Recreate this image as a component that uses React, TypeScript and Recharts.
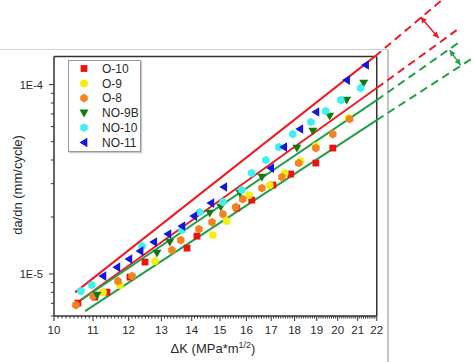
import {
  ComposedChart,
  Scatter,
  Line,
  XAxis,
  YAxis,
  ReferenceLine,
  ReferenceDot,
  Legend,
} from "recharts";

// measured crack growth rate da/dn (mm/cycle) vs ΔK (MPa*m^1/2)
const o10K = [10.6, 11.05, 11.38, 12.04, 12.49, 13.84, 14.18, 15.63, 16.21, 17.07, 17.83, 18.96, 19.76];
const o10Rate = [7.02e-6, 7.55e-6, 8.02e-6, 9.63e-6, 1.156e-5, 1.37e-5, 1.585e-5, 2.23e-5, 2.457e-5, 2.949e-5, 3.371e-5, 3.854e-5, 4.624e-5];

const o9K = [11.27, 11.75, 12.8, 14.74, 15.25, 16.1, 16.94, 17.57, 18.27, 18.96, 20.54];
const o9Rate = [8.02e-6, 8.74e-6, 1.17e-5, 1.605e-5, 1.903e-5, 2.611e-5, 2.949e-5, 3.412e-5, 3.95e-5, 4.738e-5, 6.662e-5];

const o8K = [10.55, 11.0, 11.69, 12.1, 13.34, 13.63, 14.25, 14.71, 15.11, 15.59, 15.86, 16.62, 17.45, 18.18, 18.96, 19.76, 20.59];
const o8Rate = [6.85e-6, 7.64e-6, 9.17e-6, 9.75e-6, 1.337e-5, 1.51e-5, 1.726e-5, 1.88e-5, 2.072e-5, 2.257e-5, 2.487e-5, 2.843e-5, 3.25e-5, 3.854e-5, 4.624e-5, 5.483e-5, 6.581e-5];

const no9bK = [11.11, 12.86, 13.27, 14.63, 15.03, 15.75, 16.62, 18.1, 18.82, 19.61, 20.44, 21.31];
const no9bRate = [7.74e-6, 1.289e-5, 1.474e-5, 2.098e-5, 2.257e-5, 2.675e-5, 3.25e-5, 4.624e-5, 5.686e-5, 6.826e-5, 8.293e-5, 1.02e-4];

const no10K = [10.68, 10.97, 12.4, 13.67, 14.28, 15.11, 15.82, 16.21, 16.78, 17.32, 17.92, 18.73, 19.42, 20.15, 21.15];
const no10Rate = [8.12e-6, 8.74e-6, 1.404e-5, 1.706e-5, 2.123e-5, 2.398e-5, 2.775e-5, 3.412e-5, 3.999e-5, 4.681e-5, 5.483e-5, 6.345e-5, 7.256e-5, 8.293e-5, 9.595e-5];

const no11K = [11.27, 11.66, 12.01, 12.34, 12.76, 13.21, 13.67, 14.07, 14.67, 15.14, 16.98, 17.53, 18.23, 18.96, 20.44, 21.41];
const no11Rate = [9.75e-6, 1.087e-5, 1.199e-5, 1.321e-5, 1.474e-5, 1.625e-5, 1.791e-5, 2.022e-5, 2.369e-5, 2.878e-5, 3.625e-5, 4.681e-5, 5.828e-5, 7.168e-5, 1.057e-4, 1.269e-4];

// fitted bounds (solid inside the frame, dashed extrapolation)
const upperRedK = [10.53, 21.9];
const upperRedRate = [8.0e-6, 1.41e-4];
const upperRedExtK = [21.9, 25.8];
const upperRedExtRate = [1.41e-4, 2.8e-4];

const lowerRedK = [10.6, 22];
const lowerRedRate = [7.11e-6, 9.6e-5];
const lowerRedExtK = [22, 26.74];
const lowerRedExtRate = [9.6e-5, 1.94e-4];

const upperGreenK = [10.53, 22];
const upperGreenRate = [6.94e-6, 8.29e-5];
const upperGreenExtK = [22, 26.93];
const upperGreenExtRate = [8.29e-5, 1.68e-4];

const lowerGreenK = [10.79, 22];
const lowerGreenRate = [6.37e-6, 6.5e-5];
const lowerGreenExtK = [22, 27.8];
const lowerGreenExtRate = [6.5e-5, 1.38e-4];

// scatter band brackets
const redBracketK = [24.49, 25.59];
const redBracketRate = [2.276e-4, 1.763e-4];
const greenBracketK = [26.29, 27.0];
const greenBracketRate = [1.523e-4, 1.269e-4];

const frameK = [10, 22];
const frameRate = [6e-6, 1.41e-4];

const majorK = [10, 11, 12, 13, 14, 15, 16, 17, 18, 19, 20, 21, 22];
const minorK = Array.from({ length: 120 }, (_, i) => Math.round((10 + (i + 1) * 0.1) * 10) / 10).filter(
  (v) => v < 22 && !Number.isInteger(v)
);
const majorRate = [1e-5, 1e-4];
const minorRate = [6e-6, 7e-6, 8e-6, 9e-6, 2e-5, 3e-5, 4e-5, 5e-5, 6e-5, 7e-5, 8e-5, 9e-5];
const rateLabels: Record<string, string> = { "0.00001": "1E-5", "0.0001": "1E-4" };

const FONT = "'Liberation Sans', Arial, sans-serif";
const TEXT = "#2a2a2a";
const RED = "#ee1c25";
const GREEN = "#22a048";

const toPoints = (k: number[], r: number[]) => k.map((x, i) => ({ x, y: r[i] }));

const series = [
  { name: "O-10", color: "#ee1111", shape: "square", pts: toPoints(o10K, o10Rate) },
  { name: "O-9", color: "#f4ee10", shape: "circle", pts: toPoints(o9K, o9Rate) },
  { name: "O-8", color: "#f58220", shape: "hexagon", pts: toPoints(o8K, o8Rate) },
  { name: "NO-9B", color: "#127a12", shape: "down", pts: toPoints(no9bK, no9bRate) },
  { name: "NO-10", color: "#3ff0f0", shape: "hexagon", pts: toPoints(no10K, no10Rate) },
  { name: "NO-11", color: "#1414e6", shape: "left", pts: toPoints(no11K, no11Rate) },
];

const fits = [
  { id: "ur", color: RED, solid: toPoints(upperRedK, upperRedRate), ext: toPoints(upperRedExtK, upperRedExtRate) },
  { id: "lr", color: RED, solid: toPoints(lowerRedK, lowerRedRate), ext: toPoints(lowerRedExtK, lowerRedExtRate) },
  { id: "ug", color: GREEN, solid: toPoints(upperGreenK, upperGreenRate), ext: toPoints(upperGreenExtK, upperGreenExtRate) },
  { id: "lg", color: GREEN, solid: toPoints(lowerGreenK, lowerGreenRate), ext: toPoints(lowerGreenExtK, lowerGreenExtRate) },
];

const brackets = [
  { color: RED, k: redBracketK, r: redBracketRate, angle: 49 },
  { color: GREEN, k: greenBracketK, r: greenBracketRate, angle: 54 },
];

function Marker({ shape, cx, cy, color }: { shape: string; cx: number; cy: number; color: string }) {
  switch (shape) {
    case "square":
      return <rect x={cx - 3.4} y={cy - 3.4} width={6.8} height={6.8} fill={color} />;
    case "circle":
      return <circle cx={cx} cy={cy} r={3.9} fill={color} />;
    case "hexagon": {
      const pts = [0, 1, 2, 3, 4, 5]
        .map((i) => {
          const a = (Math.PI / 3) * i + Math.PI / 6;
          return `${cx + 4.3 * Math.cos(a)},${cy + 4.3 * Math.sin(a)}`;
        })
        .join(" ");
      return <polygon points={pts} fill={color} />;
    }
    case "down":
      return <polygon points={`${cx - 4.5},${cy - 3.3} ${cx + 4.5},${cy - 3.3} ${cx},${cy + 4.5}`} fill={color} />;
    case "left":
      return <polygon points={`${cx - 4.5},${cy} ${cx + 3.3},${cy - 4.8} ${cx + 3.3},${cy + 4.8}`} fill={color} />;
    default:
      return null;
  }
}

const KTick = ({ x, y, payload }: any) => {
  const v = payload.value;
  const major = Number.isInteger(v);
  return (
    <g>
      <line x1={x} x2={x} y1={y} y2={y + (major ? 5 : 2.5)} stroke="#333" strokeWidth={1} />
      {major && (
        <text x={x} y={y + 18} textAnchor="middle" fontSize={11.5} fontFamily={FONT} fill={TEXT}>
          {v}
        </text>
      )}
    </g>
  );
};

const RateTick = ({ x, y, payload }: any) => {
  const label = rateLabels[String(payload.value)];
  return (
    <g>
      <line x1={x - (label ? 5 : 3)} x2={x} y1={y} y2={y} stroke="#333" strokeWidth={1} />
      {label && (
        <text x={x - 11} y={y + 4} textAnchor="end" fontSize={11} fontFamily={FONT} fill={TEXT}>
          {label}
        </text>
      )}
    </g>
  );
};

const LegendBox = () => (
  <div
    style={{
      width: 73,
      height: 92,
      border: "1px solid #9a9a9a",
      boxShadow: "1px 1px 1px #c8c8c8",
      background: "#fff",
      boxSizing: "border-box",
    }}
  >
    <svg width={71} height={90}>
      {series.map((s, i) => (
        <g key={s.name}>
          <Marker shape={s.shape} cx={15} cy={7.5 + i * 14.8} color={s.color} />
          <text x={33} y={11.8 + i * 14.8} fontSize={12} fontFamily={FONT} fill={TEXT}>
            {s.name}
          </text>
        </g>
      ))}
    </svg>
  </div>
);

const arrowHead = (angle: number, color: string) => (p: any) => (
  <polygon points="0,0 -6,-3 -6,3" transform={`translate(${p.cx},${p.cy}) rotate(${angle})`} fill={color} />
);

export default function App() {
  return (
    <div style={{ position: "absolute", left: 0, top: 0, width: 474, height: 362, background: "#fff" }}>
      <div style={{ position: "absolute", left: 0, top: 49, width: 387, height: 313, borderTop: "1.5px solid #d2d2d2", borderRight: "2px solid #c4c4c4" }} />
      <div
        style={{
          position: "absolute",
          left: 213,
          top: 340,
          transform: "translateX(-50%)",
          fontFamily: FONT,
          fontSize: 13,
          color: TEXT,
          whiteSpace: "nowrap",
        }}
      >
        ΔK (MPa*m<sup style={{ fontSize: 9 }}>1/2</sup>)
      </div>
      <div
        style={{
          position: "absolute",
          left: 17,
          top: 185,
          transform: "translate(-50%, -50%) rotate(-90deg)",
          fontFamily: FONT,
          fontSize: 13,
          color: TEXT,
          whiteSpace: "nowrap",
        }}
      >
        da/dn (mm/cycle)
      </div>
      <ComposedChart width={474} height={362} margin={{ top: 0, right: 0, bottom: 0, left: 0 }} style={{ position: "absolute", left: 0, top: 0 }}>
        <XAxis
          type="number"
          dataKey="x"
          scale="log"
          domain={[10, 27.9]}
          allowDataOverflow
          ticks={[...majorK, ...minorK]}
          interval={0}
          tick={<KTick />}
          tickSize={0}
          tickMargin={0}
          tickLine={false}
          axisLine={false}
          height={46}
        />
        <YAxis
          type="number"
          dataKey="y"
          scale="log"
          domain={[6e-6, 2.8e-4]}
          allowDataOverflow
          ticks={[...majorRate, ...minorRate]}
          interval={0}
          tick={<RateTick />}
          tickSize={0}
          tickMargin={0}
          tickLine={false}
          axisLine={false}
          width={54}
        />
        <ReferenceLine segment={[{ x: frameK[0], y: frameRate[0] }, { x: frameK[1], y: frameRate[0] }]} stroke="#333" strokeWidth={1.5} />
        <ReferenceLine segment={[{ x: frameK[0], y: frameRate[1] }, { x: frameK[1], y: frameRate[1] }]} stroke="#333" strokeWidth={1.5} />
        <ReferenceLine segment={[{ x: frameK[0], y: frameRate[0] }, { x: frameK[0], y: frameRate[1] }]} stroke="#333" strokeWidth={1.5} />
        <ReferenceLine segment={[{ x: frameK[1], y: frameRate[0] }, { x: frameK[1], y: frameRate[1] }]} stroke="#333" strokeWidth={1.5} />
        {series.map((s) => (
          <Scatter
            key={s.name}
            name={s.name}
            data={s.pts}
            isAnimationActive={false}
            shape={(p: any) => <Marker shape={s.shape} cx={p.cx} cy={p.cy} color={s.color} />}
          />
        ))}
        {fits.map((f) => (
          <Line key={f.id} data={f.solid} dataKey="y" stroke={f.color} strokeWidth={2} dot={false} isAnimationActive={false} legendType="none" />
        ))}
        {fits.map((f) => (
          <Line
            key={f.id + "-ext"}
            data={f.ext}
            dataKey="y"
            stroke={f.color}
            strokeWidth={2}
            strokeDasharray="8 5"
            dot={false}
            isAnimationActive={false}
            legendType="none"
          />
        ))}
        {brackets.map((b, i) => (
          <ReferenceLine key={"b" + i} segment={[{ x: b.k[0], y: b.r[0] }, { x: b.k[1], y: b.r[1] }]} stroke={b.color} strokeWidth={1.5} />
        ))}
        {brackets.map((b, i) => (
          <ReferenceDot key={"bt" + i} x={b.k[0]} y={b.r[0]} shape={arrowHead(b.angle + 180, b.color)} />
        ))}
        {brackets.map((b, i) => (
          <ReferenceDot key={"bb" + i} x={b.k[1]} y={b.r[1]} shape={arrowHead(b.angle, b.color)} />
        ))}
        <Legend
          layout="vertical"
          align="center"
          verticalAlign="middle"
          content={<LegendBox />}
          wrapperStyle={{ left: 68, top: 60, width: 73, height: 92 }}
        />
      </ComposedChart>
    </div>
  );
}
